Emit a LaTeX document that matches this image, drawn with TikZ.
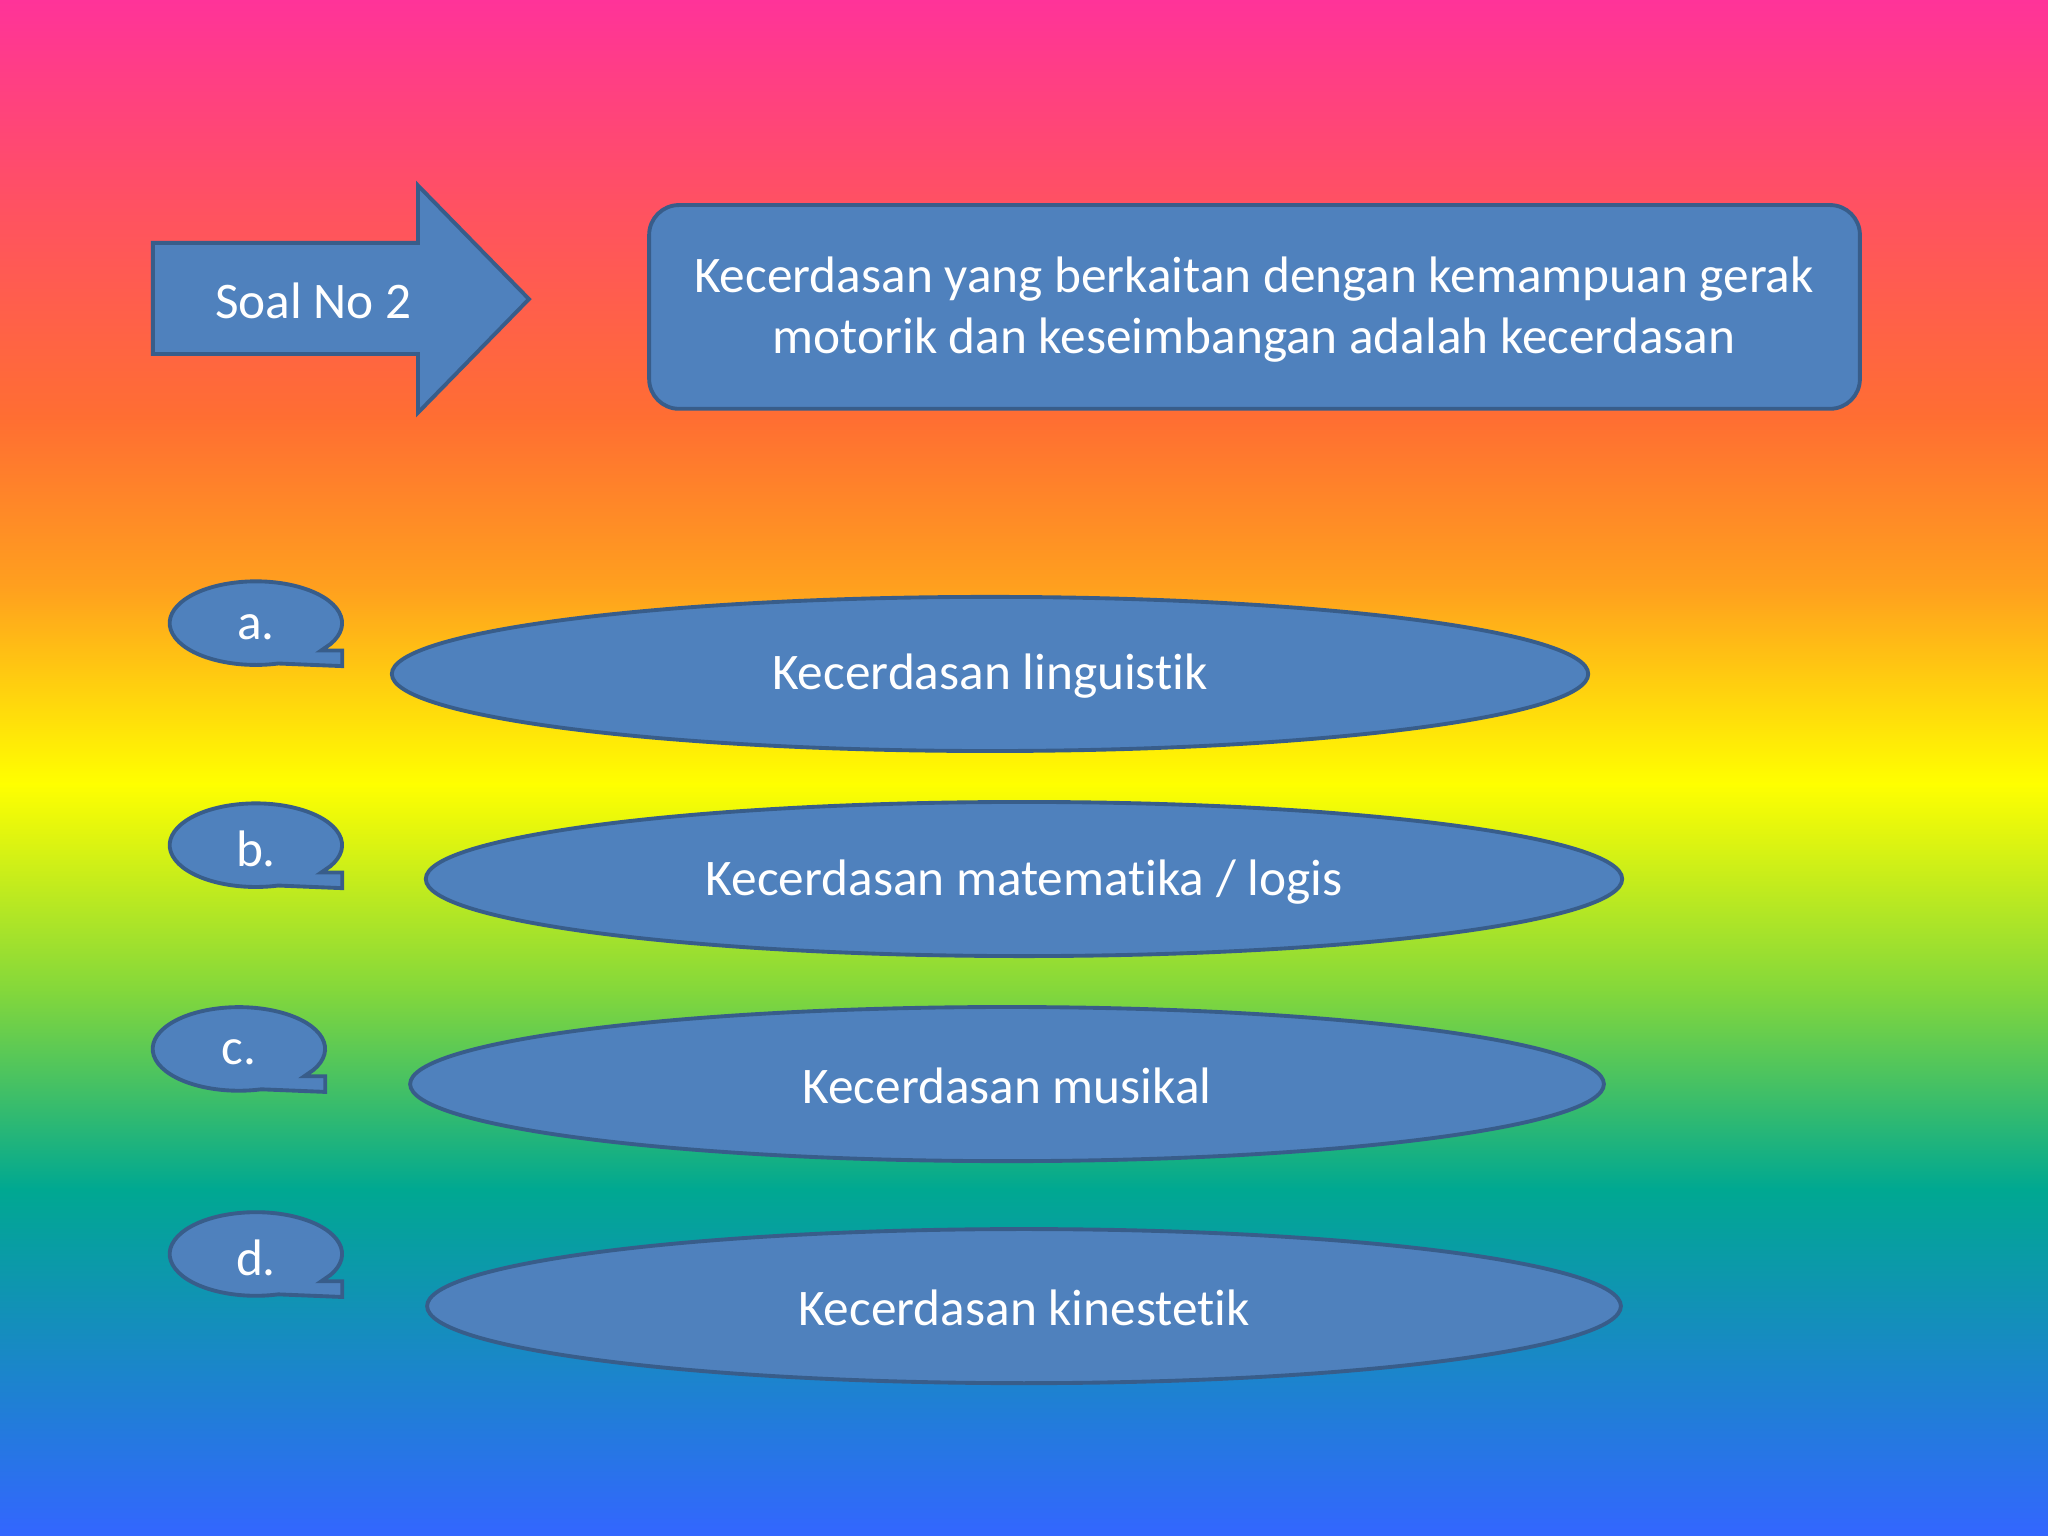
\documentclass[tikz,border=0pt]{standalone}
\usepackage{fontspec}
\setmainfont[Ligatures=NoCommon]{Carlito}
\begin{document}
\begin{tikzpicture}[x=0.013061cm,y=-0.013061cm,
  shp/.style={fill={rgb,255:red,79;green,129;blue,189},draw={rgb,255:red,56;green,93;blue,138},line width=1.1pt},
  txt/.style={text=white,font=\fontsize{14.6}{17.4}\selectfont,align=center},
  pics/bubble/.style={code={\path[shp] (17,31) arc[start angle=75,end angle=390,x radius=66,y radius=32] -- (50,21) -- (66,21) -- (66,33) -- cycle;}}]
\definecolor{c0}{RGB}{255,51,153}
\definecolor{c1}{RGB}{255,80,100}
\definecolor{c2}{RGB}{255,110,50}
\definecolor{c3}{RGB}{255,160,30}
\definecolor{c4}{RGB}{255,255,0}
\definecolor{c5}{RGB}{130,215,60}
\definecolor{c6}{RGB}{0,168,145}
\definecolor{c7}{RGB}{51,102,255}
\useasboundingbox (0,0) rectangle (1568,1176);
\shade[top color=c0,bottom color=c1] (0,0) rectangle (1568,150.5);
\shade[top color=c1,bottom color=c2] (0,150) rectangle (1568,320.5);
\shade[top color=c2,bottom color=c3] (0,320) rectangle (1568,450.5);
\shade[top color=c3,bottom color=c4] (0,450) rectangle (1568,600.5);
\shade[top color=c4,bottom color=c5] (0,600) rectangle (1568,760.5);
\shade[top color=c5,bottom color=c6] (0,760) rectangle (1568,910.5);
\shade[top color=c6,bottom color=c7] (0,910) rectangle (1568,1176);
% arrow
\draw[shp] (117,186) -- (320,186) -- (320,142) -- (405,229) -- (320,316) -- (320,271) -- (117,271) -- cycle;
\node[txt] (soal) at (240,230) {Soal No 2};
\draw[shp,rounded corners=8.5pt] (497,157) rectangle (1424,313);
\node[txt] (q) at (960,237) {Kecerdasan yang berkaitan dengan kemampuan gerak\\motorik dan keseimbangan adalah kecerdasan};
% options
\draw[shp] (758,516) ellipse [x radius=458,y radius=59];
\node[txt] (oa) at (758,518) {Kecerdasan linguistik};
\draw[shp] (784,673) ellipse [x radius=458,y radius=59];
\node[txt] (ob) at (784,675) {Kecerdasan matematika / logis};
\draw[shp] (771,830) ellipse [x radius=457,y radius=59];
\node[txt] (oc) at (771,831) {Kecerdasan musikal};
\draw[shp] (784,1000) ellipse [x radius=457,y radius=59];
\node[txt] (od) at (784,1001) {Kecerdasan kinestetik};
\pic at (196,477) {bubble};
\node[txt] (la) at (196,480) {a.};
\pic at (196,647) {bubble};
\node[txt] (lb) at (196,650) {b.};
\pic at (183,803) {bubble};
\node[txt] (lc) at (183,806) {c.};
\pic at (196,960) {bubble};
\node[txt] (ld) at (196,963) {d.};
\end{tikzpicture}
\end{document}
